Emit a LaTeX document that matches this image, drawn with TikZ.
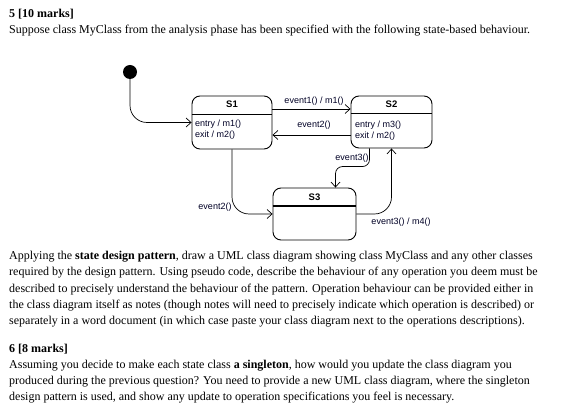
\documentclass[tikz,border=0pt]{standalone}
\usepackage{fontspec}
\setmainfont{Liberation Serif}
\newfontfamily\diafont{Liberation Sans}
\usetikzlibrary{arrows.meta,calc}
\begin{document}
\begin{tikzpicture}[x=1pt,y=-1pt,
  statebox/.style={draw,line width=0.9pt,rounded corners=8pt,inner sep=0pt},
  dtext/.style={font=\diafont\fontsize{9}{10}\selectfont,inner sep=0pt,text=black!85!blue},
  ttext/.style={font=\diafont\bfseries\fontsize{9.5}{11}\selectfont,inner sep=0pt},
  body/.style={font=\fontsize{12}{14}\selectfont,anchor=base west,inner sep=0pt},
  conn/.style={line width=0.7pt,-{Straight Barb[length=5pt,width=9pt]}},
]
\useasboundingbox (0,0) rectangle (565,411);
\fill[white] (0,0) rectangle (565,411);

% text
\node[body] (h5) at (9,18) {\bfseries 5 [10 marks]};
\node[body] (q5a) at (9,34) {Suppose class MyClass from the analysis phase has been specified with the following state-based behaviour.};

% states
\node[statebox,minimum width=80pt,minimum height=53pt] (S1) at (232,122.5) {};
\node[statebox,minimum width=81pt,minimum height=52pt] (S2) at (391.5,122) {};
\node[statebox,minimum width=83pt,minimum height=52pt] (S3) at (314.5,214) {};
\draw[line width=0.9pt] (S1.west |- 0,114) -- (S1.east |- 0,114);
\draw[line width=0.9pt] (S2.west |- 0,113) -- (S2.east |- 0,113);
\draw[line width=1.2pt] (S3.west |- 0,206) -- (S3.east |- 0,206);
\node[ttext] (S1t) at (232,104.5) {S1};
\node[ttext] (S2t) at (391.5,104.5) {S2};
\node[ttext] (S3t) at (314.5,197) {S3};
\node[dtext,anchor=base west] (S1a) at (195,127) {entry / m1()};
\node[dtext,anchor=base west] (S1b) at (195,138) {exit / m2()};
\node[dtext,anchor=base west] (S2a) at (355,128) {entry / m3()};
\node[dtext,anchor=base west] (S2b) at (355,139) {exit / m2()};

% initial
\node[circle,fill=black,minimum size=14pt,inner sep=0pt] (init) at (130,72) {};
\draw[conn,rounded corners=17pt] (init.south) |- (S1.west);

% transitions
\draw[conn] (S1.east |- 0,109) -- (S2.west |- 0,109);
\draw[conn] (S2.west |- 0,135) -- (S1.east |- 0,135);
\draw[conn,rounded corners=7pt] ($(S2.south)+(-22,0)$) |- ($(S3.north)+(21,-21)$) -- ($(S3.north)+(21,0)$);
\draw[conn,rounded corners=17pt] (S1.south) |- (S3.west);
\draw[conn,rounded corners=17pt] (S3.east) -| (S2.south);

\node[dtext] (l1) at (314,101) {event1() / m1()};
\node[dtext] (l2) at (314,125) {event2()};
\node[dtext] (l3) at (352,158.5) {event3()};
\node[dtext] (l4) at (215,207) {event2()};
\node[dtext] (l5) at (401,222) {event3() / m4()};

% body text
\node[body] (p1) at (9,260) {Applying the \textbf{state design pattern}, draw a UML class diagram showing class MyClass and any other classes};
\node[body] (p2) at (9,276) {required by the design pattern. Using pseudo code, describe the behaviour of any operation you deem must be};
\node[body] (p3) at (9,293) {described to precisely understand the behaviour of the pattern. Operation behaviour can be provided either in};
\node[body] (p4) at (9,309) {the class diagram itself as notes (though notes will need to precisely indicate which operation is described) or};
\node[body] (p5) at (9,325) {separately in a word document (in which case paste your class diagram next to the operations descriptions).};
\node[body] (h6) at (9,353) {\bfseries 6 [8 marks]};
\node[body] (q6a) at (9,369) {Assuming you decide to make each state class \textbf{a singleton}, how would you update the class diagram you};
\node[body] (q6b) at (9,385) {produced during the previous question? You need to provide a new UML class diagram, where the singleton};
\node[body] (q6c) at (9,401) {design pattern is used, and show any update to operation specifications you feel is necessary.};
\end{tikzpicture}
\end{document}
